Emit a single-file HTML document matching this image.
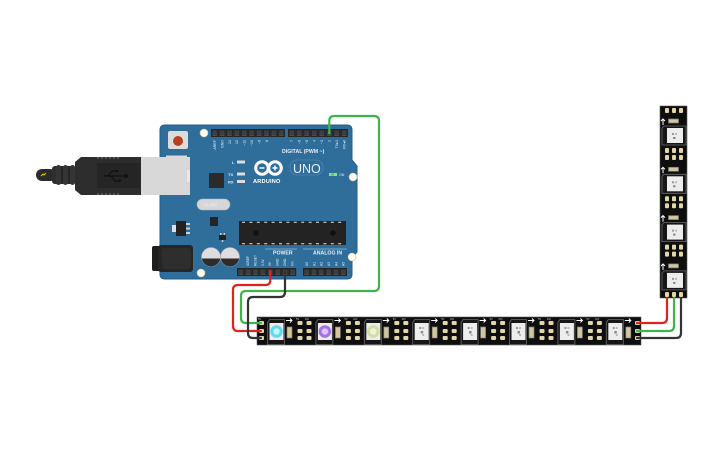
<!DOCTYPE html>
<html>
<head>
<meta charset="utf-8">
<style>
html,body{margin:0;padding:0;background:#fff;}
svg{display:block;}
text{font-family:"Liberation Sans",sans-serif;}
</style>
</head>
<body>
<svg width="725" height="453" viewBox="0 0 725 453" xmlns="http://www.w3.org/2000/svg">
<defs>
  <g id="pin"><rect width="7.4" height="8" fill="#262626"/><rect x="1.3" y="1.4" width="4.8" height="4.6" fill="#3e3e3e"/><rect x="1.3" y="6" width="4.8" height="0.8" fill="#555"/></g>
  <g id="hseg">
    <path d="M-6.5,319.5 h15 v25 h-17 v-22 z" fill="#161616" stroke="#6a6a6a" stroke-width="0.8"/>
    <rect x="-6.5" y="323" width="14" height="17" fill="#ededed"/>
    <rect x="11" y="327" width="5" height="11" fill="#d2c69c" stroke="#7a7a7a" stroke-width="0.7"/>
    <path d="M10,320.5 h6 M14,318.5 l2,2 l-2,2" stroke="#fff" stroke-width="1" fill="none"/>
    <rect x="21.5" y="321" width="5" height="4" rx="1" fill="#e2d5a8"/>
    <rect x="21.5" y="329" width="5" height="4" rx="1" fill="#e2d5a8"/>
    <rect x="21.5" y="336" width="5" height="4" rx="1" fill="#e2d5a8"/>
    <rect x="30.5" y="321" width="5" height="4" rx="1" fill="#e2d5a8"/>
    <rect x="30.5" y="329" width="5" height="4" rx="1" fill="#e2d5a8"/>
    <rect x="30.5" y="336" width="5" height="4" rx="1" fill="#e2d5a8"/>
  </g>
  <g id="whiteled">
    <rect x="-2.5" y="327" width="2" height="2" fill="#9a9a9a"/>
    <rect x="0.5" y="327" width="2" height="2" fill="#bbb"/>
    <rect x="-1" y="331" width="2.5" height="2.5" fill="#8a8a8a"/>
    <rect x="0.5" y="334" width="2" height="2" fill="#bbb"/>
  </g>
  <g id="vseg">
    <path d="M663,-11 v-6 M661,-15 l2,-2 l2,2" stroke="#fff" stroke-width="1" fill="none"/>
    <rect x="668.5" y="-17" width="10" height="4" fill="#d2c69c" stroke="#7a7a7a" stroke-width="0.7"/>
    <path d="M664,-10 h22 v19 h-24 v-17 z" fill="#161616" stroke="#6a6a6a" stroke-width="0.8"/>
    <rect x="667" y="-8" width="16" height="15" fill="#ededed"/>
    <rect x="672" y="-3" width="2" height="2" fill="#9a9a9a"/>
    <rect x="675" y="-3" width="2" height="2" fill="#bbb"/>
    <rect x="673" y="1" width="2.5" height="2" fill="#8a8a8a"/>
    <rect x="665" y="12" width="4" height="5" rx="1" fill="#e2d5a8"/>
    <rect x="672" y="12" width="4" height="5" rx="1" fill="#e2d5a8"/>
    <rect x="679" y="12" width="4" height="5" rx="1" fill="#e2d5a8"/>
    <rect x="665" y="19" width="4" height="5" rx="1" fill="#e2d5a8"/>
    <rect x="672" y="19" width="4" height="5" rx="1" fill="#e2d5a8"/>
    <rect x="679" y="19" width="4" height="5" rx="1" fill="#e2d5a8"/>
  </g>
</defs>

<!-- ===== USB cable ===== -->
<rect x="36" y="169" width="20" height="12" rx="6" fill="#2b2b2b"/>
<path d="M41,176 l2,-2 l1,1 l2,-2" stroke="#e8c400" stroke-width="1" fill="none"/>
<rect x="52" y="166" width="24" height="18" rx="3" fill="#2e2e2e"/>
<rect x="56" y="165" width="5" height="20" rx="2.5" fill="#353535"/>
<rect x="63" y="165" width="5" height="20" rx="2.5" fill="#353535"/>
<rect x="70" y="165" width="5" height="20" rx="2.5" fill="#353535"/>
<line x1="62" y1="167" x2="62" y2="183" stroke="#1a1a1a" stroke-width="1"/>
<line x1="69" y1="167" x2="69" y2="183" stroke="#1a1a1a" stroke-width="1"/>
<path d="M75,162 L81,157 H141 V195 H81 L75,190 Z" fill="#2d2d2d"/>
<rect x="97" y="163" width="43" height="25" fill="#252525"/>
<g stroke="#6a6a6a" stroke-width="1.4">
  <line x1="97" y1="157.8" x2="99" y2="157.8"/><line x1="101" y1="157.8" x2="103" y2="157.8"/><line x1="105" y1="157.8" x2="107" y2="157.8"/><line x1="109" y1="157.8" x2="111" y2="157.8"/><line x1="113" y1="157.8" x2="115" y2="157.8"/><line x1="117" y1="157.8" x2="119" y2="157.8"/>
  <line x1="97" y1="194.2" x2="99" y2="194.2"/><line x1="101" y1="194.2" x2="103" y2="194.2"/><line x1="105" y1="194.2" x2="107" y2="194.2"/><line x1="109" y1="194.2" x2="111" y2="194.2"/><line x1="113" y1="194.2" x2="115" y2="194.2"/><line x1="117" y1="194.2" x2="119" y2="194.2"/>
</g>
<g stroke="#111" stroke-width="1.2" fill="none">
  <line x1="104" y1="176" x2="125" y2="176"/>
  <path d="M108,176 l4,-5 h5"/>
  <path d="M111,176 l4,5 h4"/>
</g>
<circle cx="126" cy="176" r="2" fill="#111"/>
<circle cx="117" cy="171" r="1.3" fill="#111"/>
<rect x="118.5" y="179.5" width="2.4" height="2.4" fill="#111"/>

<!-- ===== Arduino board ===== -->
<path d="M165,125 H347 Q352,125 352,130 V160 L357,166 V252 L352,258 V274 Q352,279 347,279 H165 Q160,279 160,274 V130 Q160,125 165,125 Z" fill="#2f6e9b" stroke="#275d85" stroke-width="1"/>
<!-- USB receptacle -->
<rect x="141" y="157" width="49" height="38" fill="#d8d8d8"/>
<rect x="166" y="155.5" width="21" height="3" fill="#d8d8d8"/>
<rect x="187" y="170" width="3" height="12" fill="#e8e8e8"/>
<!-- holes -->
<circle cx="204" cy="133" r="4" fill="#fffde8" stroke="#bfbfbf" stroke-width="0.6"/>
<circle cx="201" cy="273" r="4" fill="#fffde8" stroke="#bfbfbf" stroke-width="0.6"/>
<circle cx="353" cy="177" r="4" fill="#fffde8" stroke="#bfbfbf" stroke-width="0.6"/>
<circle cx="352" cy="257" r="4" fill="#fffde8" stroke="#bfbfbf" stroke-width="0.6"/>
<!-- reset button -->
<rect x="168" y="131" width="20" height="18" rx="2" fill="#dcdcdc"/>
<circle cx="178" cy="141" r="5" fill="#b8401f"/>
<!-- top headers -->
<use href="#pin" x="211" y="129"/><use href="#pin" x="218.4" y="129"/><use href="#pin" x="225.8" y="129"/><use href="#pin" x="233.2" y="129"/><use href="#pin" x="240.6" y="129"/><use href="#pin" x="248" y="129"/><use href="#pin" x="255.4" y="129"/><use href="#pin" x="262.8" y="129"/><use href="#pin" x="270.2" y="129"/><use href="#pin" x="277.6" y="129"/>
<use href="#pin" x="288" y="129"/><use href="#pin" x="295.5" y="129"/><use href="#pin" x="303" y="129"/><use href="#pin" x="310.5" y="129"/><use href="#pin" x="318" y="129"/><use href="#pin" x="325.5" y="129"/><use href="#pin" x="333" y="129"/><use href="#pin" x="340.5" y="129"/>
<!-- top labels -->
<g fill="#e6eef5" font-size="3.6" text-anchor="end">
  <text transform="translate(216,140) rotate(-90)">AREF</text>
  <text transform="translate(223.4,140) rotate(-90)">GND</text>
  <text transform="translate(230.8,140) rotate(-90)">13</text>
  <text transform="translate(238.2,140) rotate(-90)">12</text>
  <text transform="translate(245.6,140) rotate(-90)">~11</text>
  <text transform="translate(253,140) rotate(-90)">~10</text>
  <text transform="translate(260.4,140) rotate(-90)">~9</text>
  <text transform="translate(267.8,140) rotate(-90)">8</text>
  <text transform="translate(293,140) rotate(-90)">7</text>
  <text transform="translate(300.5,140) rotate(-90)">~6</text>
  <text transform="translate(308,140) rotate(-90)">~5</text>
  <text transform="translate(315.5,140) rotate(-90)">4</text>
  <text transform="translate(323,140) rotate(-90)">~3</text>
  <text transform="translate(330.5,140) rotate(-90)">2</text>
  <text transform="translate(338,140) rotate(-90)">TX▸1</text>
  <text transform="translate(345.5,140) rotate(-90)">RX◂0</text>
</g>
<text x="282" y="153" fill="#e6eef5" font-size="5.2" font-weight="bold">DIGITAL (PWM ~)</text>
<!-- L TX RX LEDs -->
<rect x="237" y="160.5" width="8" height="3" fill="#dcdcdc"/>
<rect x="237" y="172.5" width="8" height="3" fill="#dcdcdc"/>
<rect x="237" y="180" width="8" height="3" fill="#dcdcdc"/>
<g fill="#e6eef5" font-size="4" font-weight="bold">
  <text x="232" y="164">L</text>
  <text x="228" y="176">TX</text>
  <text x="228" y="183.5">RX</text>
</g>
<!-- logo -->
<circle cx="262" cy="168" r="6.3" fill="none" stroke="#fff" stroke-width="3"/>
<circle cx="275" cy="168" r="6.3" fill="none" stroke="#fff" stroke-width="3"/>
<line x1="259.5" y1="168" x2="264.5" y2="168" stroke="#fff" stroke-width="1.4"/>
<path d="M272.5,168 h5 M275,165.5 v5" stroke="#fff" stroke-width="1.4"/>
<text x="253" y="183" fill="#fff" font-size="5.6" font-weight="bold" letter-spacing="0.2">ARDUINO</text>
<rect x="290" y="160" width="33" height="15" rx="7" fill="none" stroke="#4a86b3" stroke-width="0.8"/>
<text x="293" y="173" fill="#e8eff6" font-size="12.5">UNO</text>
<rect x="329" y="173" width="8" height="3" fill="#8fe08a"/>
<rect x="331" y="173.5" width="3" height="2" fill="#3ec83a"/>
<text x="339" y="176" fill="#e6eef5" font-size="3.6">ON</text>
<!-- 16U2 -->
<rect x="209" y="173" width="15" height="15" fill="#2b2b2b"/>
<!-- crystal -->
<rect x="197" y="199" width="33" height="11" rx="5.5" fill="#d6d6d6" stroke="#b5b5b5" stroke-width="0.6"/>
<text x="203" y="206.5" fill="#eeeeee" font-size="4.5">16.000</text>
<!-- small parts -->
<rect x="210" y="217" width="8" height="9" fill="#252525"/>
<rect x="172" y="225" width="4" height="7" fill="#e0e0e0"/>
<rect x="176" y="221" width="10" height="15" fill="#222"/>
<rect x="186" y="223" width="4" height="2" fill="#cfcfcf"/><rect x="186" y="227.5" width="4" height="2" fill="#cfcfcf"/><rect x="186" y="232" width="4" height="2" fill="#cfcfcf"/>
<rect x="219" y="235" width="7" height="5" fill="#222"/>
<rect x="220" y="233" width="1.5" height="2" fill="#ccc"/><rect x="223.5" y="233" width="1.5" height="2" fill="#ccc"/><rect x="221.8" y="240" width="1.5" height="2" fill="#ccc"/>
<!-- capacitors -->
<circle cx="211" cy="257" r="9.5" fill="#dedede" stroke="#a8a8a8" stroke-width="0.6"/>
<path d="M201.8,258.5 A9.3,9.3 0 0 0 220.2,258.5 Z" fill="#2d2d2d"/>
<circle cx="230" cy="257" r="9.5" fill="#dedede" stroke="#a8a8a8" stroke-width="0.6"/>
<path d="M220.8,258.5 A9.3,9.3 0 0 0 239.2,258.5 Z" fill="#2d2d2d"/>
<!-- power jack -->
<rect x="152" y="246" width="10" height="25" rx="2" fill="#1e1e1e"/>
<rect x="158" y="245" width="35" height="27" rx="3" fill="#262626"/>
<rect x="162" y="248" width="29" height="21" rx="3" fill="#2e2e2e"/>
<!-- ATmega -->
<rect x="239" y="221" width="107" height="24" fill="#232323"/>
<g stroke="#e8e8e8" stroke-width="1">
  <path d="M242,222.3 h3 m4.4,0 h3 m4.4,0 h3 m4.4,0 h3 m4.4,0 h3 m4.4,0 h3 m4.4,0 h3 m4.4,0 h3 m4.4,0 h3 m4.4,0 h3 m4.4,0 h3 m4.4,0 h3 m4.4,0 h3 m4.4,0 h3"/>
  <path d="M242,243.7 h3 m4.4,0 h3 m4.4,0 h3 m4.4,0 h3 m4.4,0 h3 m4.4,0 h3 m4.4,0 h3 m4.4,0 h3 m4.4,0 h3 m4.4,0 h3 m4.4,0 h3 m4.4,0 h3 m4.4,0 h3 m4.4,0 h3"/>
</g>
<circle cx="256" cy="233" r="2.8" fill="#111"/>
<circle cx="333" cy="233" r="2.8" fill="#111"/>
<!-- bottom labels -->
<line x1="265" y1="249" x2="297" y2="249" stroke="#c9d9e6" stroke-width="0.6"/>
<line x1="303" y1="249" x2="347" y2="249" stroke="#c9d9e6" stroke-width="0.6"/>
<text x="273" y="254.5" fill="#e6eef5" font-size="5.2" font-weight="bold">POWER</text>
<text x="313" y="254.5" fill="#e6eef5" font-size="5.2" font-weight="bold">ANALOG IN</text>
<g fill="#e6eef5" font-size="3.3">
  <text transform="translate(249,266) rotate(-90)">IOREF</text>
  <text transform="translate(256.4,266) rotate(-90)">RESET</text>
  <text transform="translate(263.8,266) rotate(-90)">3.3V</text>
  <text transform="translate(271.2,266) rotate(-90)">5V</text>
  <text transform="translate(278.6,266) rotate(-90)">GND</text>
  <text transform="translate(286,266) rotate(-90)">GND</text>
  <text transform="translate(293.4,266) rotate(-90)">Vin</text>
  <text transform="translate(308,266) rotate(-90)">A0</text>
  <text transform="translate(315.3,266) rotate(-90)">A1</text>
  <text transform="translate(322.6,266) rotate(-90)">A2</text>
  <text transform="translate(330,266) rotate(-90)">A3</text>
  <text transform="translate(337.3,266) rotate(-90)">A4</text>
  <text transform="translate(344.6,266) rotate(-90)">A5</text>
</g>
<!-- bottom headers -->
<use href="#pin" x="237" y="268"/><use href="#pin" x="244.4" y="268"/><use href="#pin" x="251.8" y="268"/><use href="#pin" x="259.2" y="268"/><use href="#pin" x="266.6" y="268"/><use href="#pin" x="274" y="268"/><use href="#pin" x="281.4" y="268"/><use href="#pin" x="288.8" y="268"/>
<use href="#pin" x="303" y="268"/><use href="#pin" x="310.3" y="268"/><use href="#pin" x="317.6" y="268"/><use href="#pin" x="325" y="268"/><use href="#pin" x="332.3" y="268"/><use href="#pin" x="339.6" y="268"/>

<!-- ===== Horizontal LED strip ===== -->
<rect x="257" y="317" width="384" height="28" fill="#0e0e0e" stroke="#5a5a5a" stroke-width="0.6"/>
<rect x="259" y="321" width="5" height="4" rx="1" fill="#e2d5a8"/>
<rect x="259" y="329" width="5" height="4" rx="1" fill="#e2d5a8"/>
<rect x="259" y="336" width="5" height="4" rx="1" fill="#e2d5a8"/>
<use href="#hseg" x="276"/>
<use href="#hseg" x="324.4"/>
<use href="#hseg" x="372.8"/>
<use href="#hseg" x="421.2"/>
<use href="#hseg" x="469.6"/>
<use href="#hseg" x="518"/>
<use href="#hseg" x="566.4"/>
<g transform="translate(614.8,0)">
  <path d="M-6.5,319.5 h15 v25 h-17 v-22 z" fill="#161616" stroke="#6a6a6a" stroke-width="0.8"/>
  <rect x="-6.5" y="323" width="14" height="17" fill="#ededed"/>
  <rect x="11" y="327" width="5" height="11" fill="#d2c69c" stroke="#7a7a7a" stroke-width="0.7"/>
  <path d="M10,320.5 h6 M14,318.5 l2,2 l-2,2" stroke="#fff" stroke-width="1" fill="none"/>
</g>
<rect x="635" y="321" width="5" height="4" rx="1" fill="#e2d5a8"/>
<rect x="635" y="329" width="5" height="4" rx="1" fill="#e2d5a8"/>
<rect x="635" y="336" width="5" height="4" rx="1" fill="#e2d5a8"/>
<!-- LED colors -->
<circle cx="276.5" cy="331.5" r="6.3" fill="#63d9ef"/><circle cx="276.5" cy="331.5" r="3.2" fill="#c6f5fc"/>
<circle cx="324.9" cy="331.5" r="6.3" fill="#a674e2"/><circle cx="324.9" cy="331.5" r="3.2" fill="#dcc5f7"/>
<circle cx="373.3" cy="331.5" r="6.3" fill="#d3dea0"/><circle cx="373.3" cy="331.5" r="3.2" fill="#eff4da"/>
<use href="#whiteled" x="421.7"/>
<use href="#whiteled" x="470.1"/>
<use href="#whiteled" x="518.5"/>
<use href="#whiteled" x="566.9"/>
<use href="#whiteled" x="615.3"/>
<g fill="#cfcfcf" font-size="2.6">
  <text x="296" y="320">5V</text><text x="305" y="320">DO</text>
  <text x="344.4" y="320">5V</text><text x="353.4" y="320">DO</text>
  <text x="392.8" y="320">5V</text><text x="401.8" y="320">DO</text>
  <text x="441.2" y="320">5V</text><text x="450.2" y="320">DO</text>
  <text x="489.6" y="320">5V</text><text x="498.6" y="320">DO</text>
  <text x="538" y="320">5V</text><text x="547" y="320">DO</text>
  <text x="586.4" y="320">5V</text><text x="595.4" y="320">DO</text>
  <text x="258" y="320">5V</text>
</g>

<!-- ===== Vertical LED strip ===== -->
<rect x="660" y="106" width="27" height="192" fill="#0e0e0e" stroke="#5a5a5a" stroke-width="0.6"/>
<rect x="665" y="108" width="4" height="5" rx="1" fill="#e2d5a8"/>
<rect x="672" y="108" width="4" height="5" rx="1" fill="#e2d5a8"/>
<rect x="679" y="108" width="4" height="5" rx="1" fill="#e2d5a8"/>
<use href="#vseg" y="136"/>
<use href="#vseg" y="184.3"/>
<use href="#vseg" y="232.6"/>
<g transform="translate(0,280.9)">
  <path d="M663,-11 v-6 M661,-15 l2,-2 l2,2" stroke="#fff" stroke-width="1" fill="none"/>
  <rect x="668.5" y="-17" width="10" height="4" fill="#d2c69c" stroke="#7a7a7a" stroke-width="0.7"/>
  <path d="M664,-10 h22 v19 h-24 v-17 z" fill="#161616" stroke="#6a6a6a" stroke-width="0.8"/>
  <rect x="667" y="-8" width="16" height="15" fill="#ededed"/>
  <rect x="672" y="-3" width="2" height="2" fill="#9a9a9a"/>
  <rect x="675" y="-3" width="2" height="2" fill="#bbb"/>
  <rect x="673" y="1" width="2.5" height="2" fill="#8a8a8a"/>
</g>
<rect x="665" y="292" width="4" height="5" rx="1" fill="#e2d5a8"/>
<rect x="672" y="292" width="4" height="5" rx="1" fill="#e2d5a8"/>
<rect x="679" y="292" width="4" height="5" rx="1" fill="#e2d5a8"/>

<!-- ===== Wires ===== -->
<g fill="none" stroke-width="2.2" stroke-linecap="round" stroke-linejoin="round">
  <path d="M329.3,133 V121 Q329.3,116 334.3,116 H374 Q379,116 379,121 V286 Q379,291 374,291 H246 Q241,291 241,296 V318 Q241,323 246,323 H261" stroke="#3fb44b"/>
  <path d="M270.3,271 V280 Q270.3,285 265.3,285 H238 Q233,285 233,290 V326 Q233,331 238,331 H261" stroke="#e0231f"/>
  <path d="M285,271 V292 Q285,297 280,297 H253 Q248,297 248,302 V333 Q248,338 253,338 H261" stroke="#333"/>
  <path d="M637,323 H662 Q667,323 667,318 V298" stroke="#e0231f"/>
  <path d="M637,331 H669 Q674,331 674,326 V298" stroke="#3fb44b"/>
  <path d="M637,338 H676 Q681,338 681,333 V298" stroke="#333"/>
</g>
<circle cx="329.3" cy="133" r="1.3" fill="#3fb44b"/>
<circle cx="270.3" cy="272" r="1.3" fill="#e0231f"/>
<circle cx="285" cy="272" r="1.3" fill="#333"/>
</svg>
</body>
</html>
